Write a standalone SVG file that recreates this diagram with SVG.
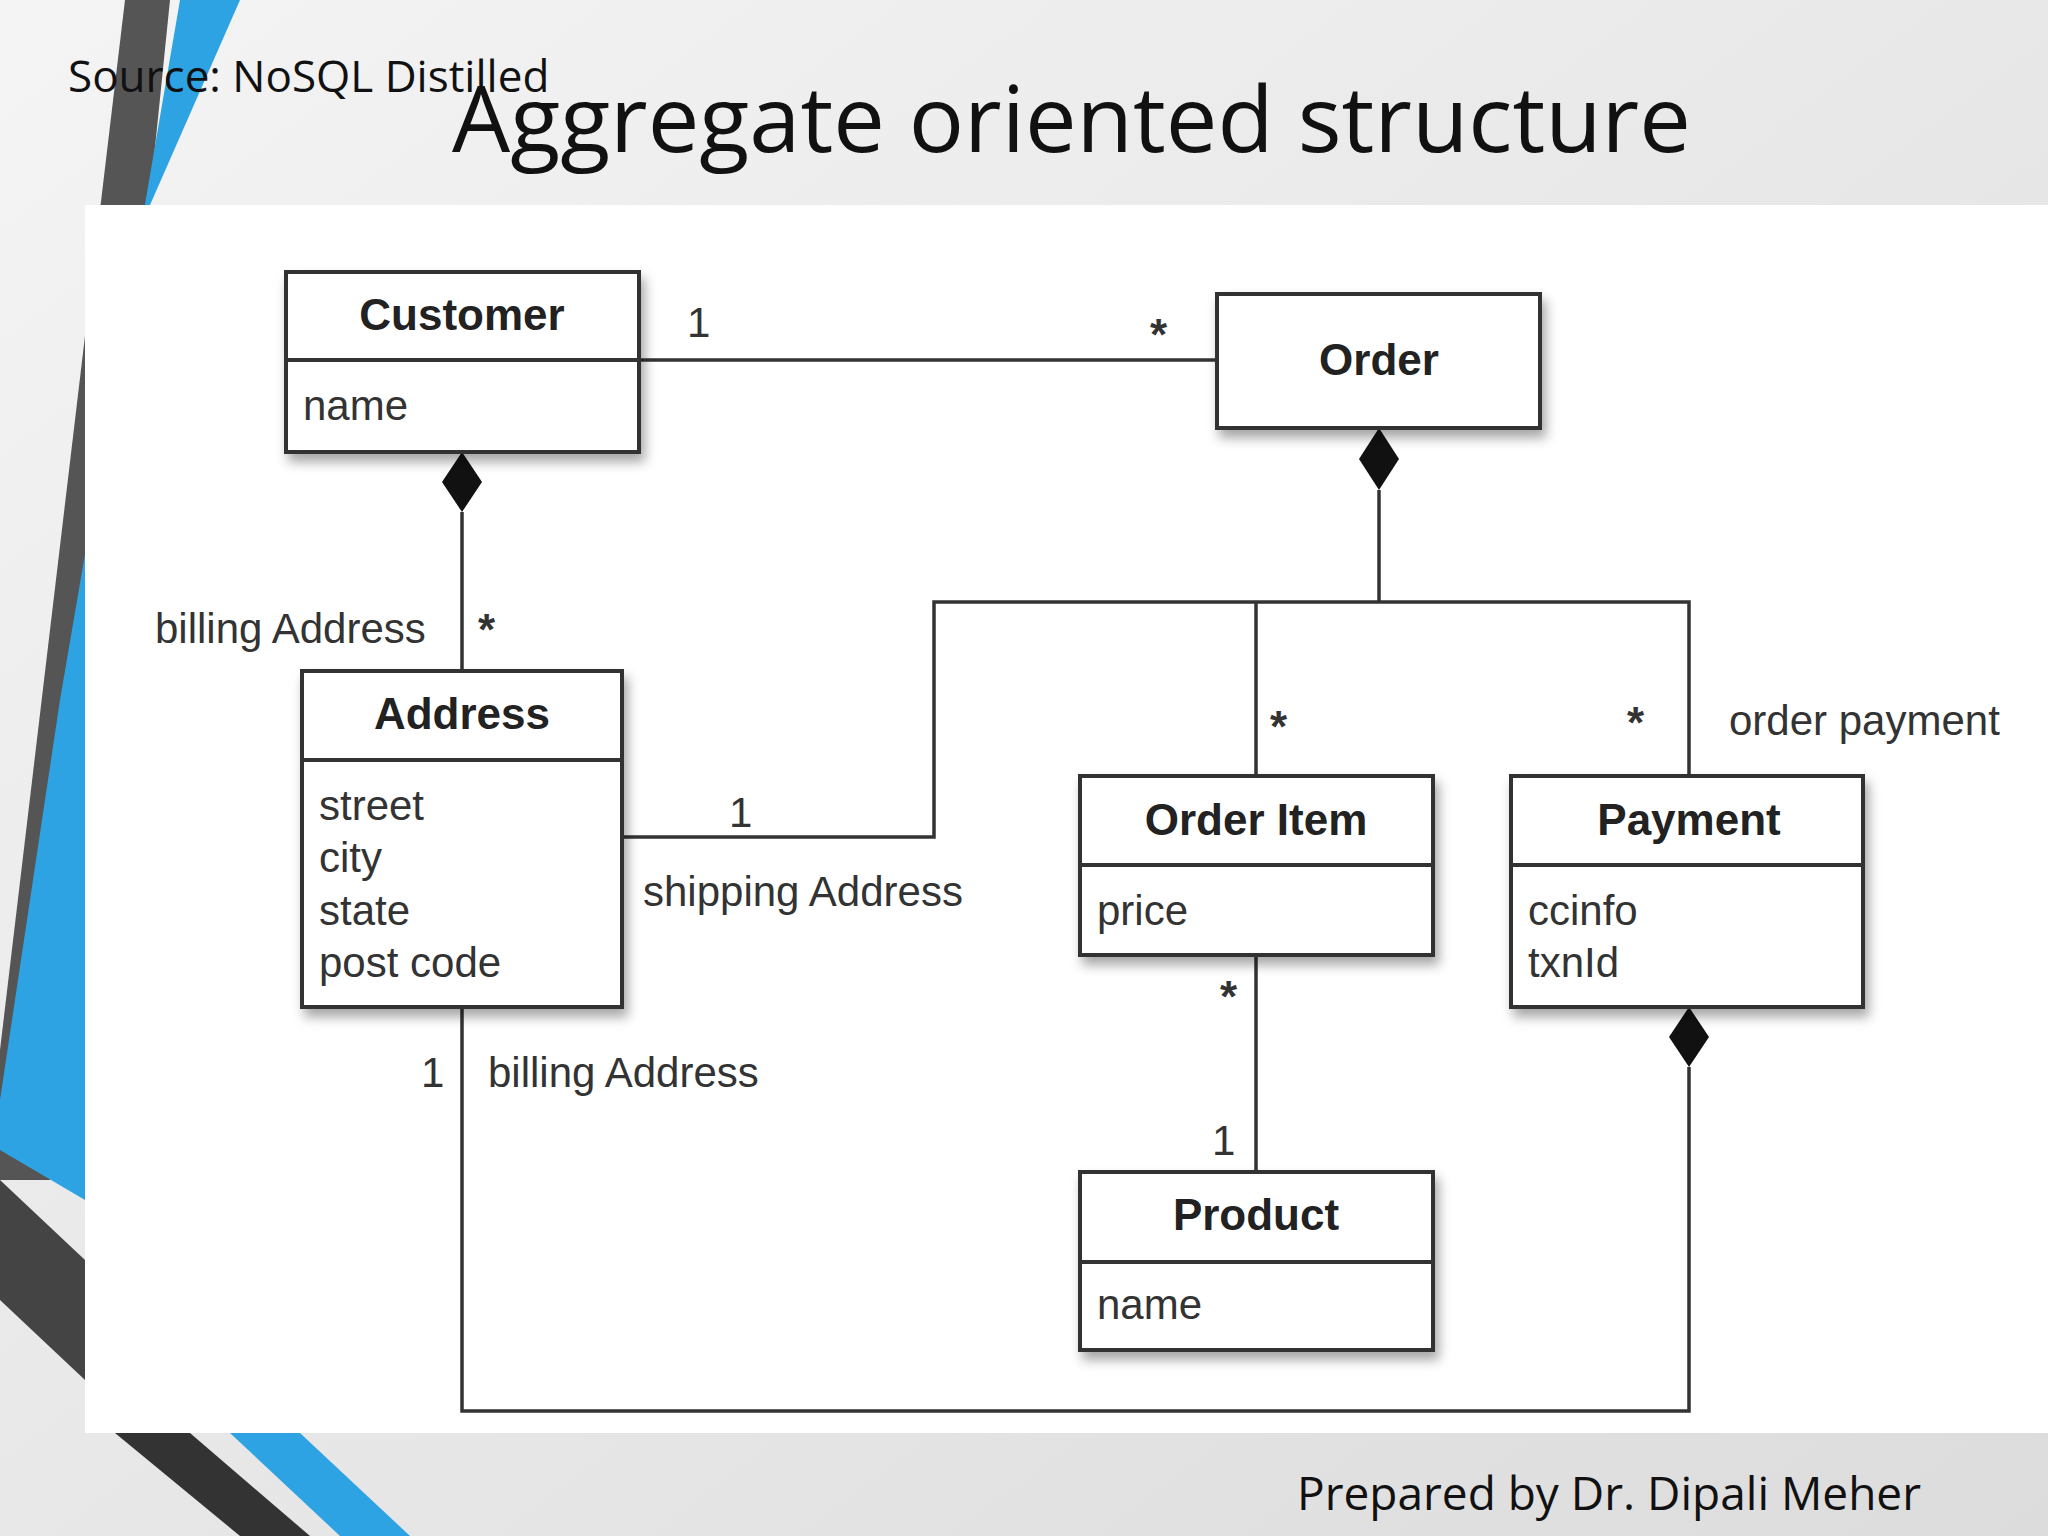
<svg xmlns="http://www.w3.org/2000/svg" width="2048" height="1536" viewBox="0 0 2048 1536">
<defs>
<linearGradient id="bg" x1="0" y1="0" x2="1" y2="1"><stop offset="0" stop-color="#f4f4f4"/><stop offset="1" stop-color="#dcdcdc"/></linearGradient>
<filter id="sh" x="-10%" y="-10%" width="130%" height="130%"><feDropShadow dx="4" dy="8" stdDeviation="6" flood-color="#000" flood-opacity="0.35"/></filter>
<style>
.box{fill:#fff;stroke:#333;stroke-width:4;filter:url(#sh)}
.div{stroke:#333;stroke-width:4}
.ln{fill:none;stroke:#333;stroke-width:3.5}
.dm{fill:#111}
.h{font-family:"Liberation Sans",Arial,sans-serif;font-weight:bold;font-size:44px;fill:#222;text-anchor:middle}
.t{font-family:"Liberation Sans",Arial,sans-serif;font-size:42px;fill:#333}
.s{font-family:"Liberation Sans",Arial,sans-serif;font-size:44px;fill:#333;font-weight:bold}
.slide{font-family:"Open Sans","Noto Sans",sans-serif;fill:#111}
</style>
</defs>
<rect width="2048" height="1536" fill="url(#bg)"/>
<polygon points="125,0 170,0 50,1180 0,1180 0,1050" fill="#555"/>
<polygon points="180,0 240,0 150,205 85,205 85,1200 0,1150 0,1100 60,700" fill="#2ea3e3"/>
<polygon points="0,1180 85,1260 85,1380 0,1300" fill="#444"/>
<polygon points="115,1433 190,1433 310,1536 240,1536" fill="#333"/>
<polygon points="230,1433 300,1433 410,1536 340,1536" fill="#2ea3e3"/>
<rect x="85" y="205" width="1963" height="1228" fill="#fff"/>
<text class="slide" x="68" y="92" font-size="44">Source: NoSQL Distilled</text>
<text class="slide" x="452" y="152" font-size="92">Aggregate oriented structure</text>
<text class="slide" x="1297" y="1510" font-size="46">Prepared by Dr. Dipali Meher</text>
<g id="connectors">
<line class="ln" x1="639" y1="360" x2="1217" y2="360"/>
<line class="ln" x1="462" y1="512" x2="462" y2="671"/>
<polygon class="dm" points="462,452 482,482 462,512 442,482"/>
<polyline class="ln" points="1379,490 1379,602"/>
<polygon class="dm" points="1379,428 1399,459 1379,490 1359,459"/>
<polyline class="ln" points="622,837 934,837 934,602 1689,602 1689,776"/>
<line class="ln" x1="1256" y1="602" x2="1256" y2="776"/>
<line class="ln" x1="1256" y1="955" x2="1256" y2="1172"/>
<polyline class="ln" points="462,1007 462,1411 1689,1411 1689,1067"/>
<polygon class="dm" points="1689,1007 1709,1037 1689,1067 1669,1037"/>
<text class="t" x="687" y="337">1</text>
<text class="s" x="1150" y="350">*</text>
<text class="t" x="155" y="643">billing Address</text>
<text class="s" x="478" y="645">*</text>
<text class="t" x="729" y="827">1</text>
<text class="t" x="643" y="906">shipping Address</text>
<text class="s" x="1270" y="742">*</text>
<text class="s" x="1627" y="738">*</text>
<text class="t" x="1729" y="735">order payment</text>
<text class="s" x="1220" y="1012">*</text>
<text class="t" x="1212" y="1155">1</text>
<text class="t" x="421" y="1087">1</text>
<text class="t" x="488" y="1087">billing Address</text>
</g>
<g id="customer"><rect class="box" x="286" y="272" width="353" height="180"/><line class="div" x1="286" y1="360" x2="639" y2="360"/><text class="h" x="462" y="330">Customer</text><text class="t" x="303" y="420">name</text></g>
<g id="order"><rect class="box" x="1217" y="294" width="323" height="134"/><text class="h" x="1379" y="375">Order</text></g>
<g id="address"><rect class="box" x="302" y="671" width="320" height="336"/><line class="div" x1="302" y1="760" x2="622" y2="760"/><text class="h" x="462" y="729">Address</text><text class="t" x="319" y="820">street</text><text class="t" x="319" y="872">city</text><text class="t" x="319" y="925">state</text><text class="t" x="319" y="977">post code</text></g>
<g id="orderitem"><rect class="box" x="1080" y="776" width="353" height="179"/><line class="div" x1="1080" y1="865" x2="1433" y2="865"/><text class="h" x="1256" y="835">Order Item</text><text class="t" x="1097" y="925">price</text></g>
<g id="payment"><rect class="box" x="1511" y="776" width="352" height="231"/><line class="div" x1="1511" y1="865" x2="1863" y2="865"/><text class="h" x="1689" y="835">Payment</text><text class="t" x="1528" y="925">ccinfo</text><text class="t" x="1528" y="977">txnId</text></g>
<g id="product"><rect class="box" x="1080" y="1172" width="353" height="178"/><line class="div" x1="1080" y1="1262" x2="1433" y2="1262"/><text class="h" x="1256" y="1230">Product</text><text class="t" x="1097" y="1319">name</text></g>
</svg>
